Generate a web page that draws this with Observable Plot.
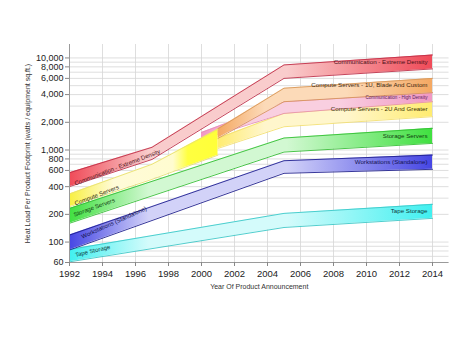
<!DOCTYPE html>
<html>
<head>
<meta charset="utf-8">
<script src="https://cdn.jsdelivr.net/npm/d3@7"></script>
<script src="https://cdn.jsdelivr.net/npm/@observablehq/plot@0.6"></script>
<style>
  body { margin: 0; background: #fff; }
  #chart svg { display: block; }
</style>
</head>
<body>
<div id="chart"></div>
<script>
// Axis ticks and labels
const yearTicks = [1992, 1994, 1996, 1998, 2000, 2002, 2004, 2006, 2008, 2010, 2012, 2014];
const valueTicks = [60, 100, 200, 400, 600, 800, 1000, 2000, 4000, 6000, 8000, 10000];
const gridValues = [60, 70, 80, 90, 100, 200, 300, 400, 500, 600, 700, 800, 900,
  1000, 2000, 3000, 4000, 5000, 6000, 7000, 8000, 9000, 10000];
const xTitle = "Year Of Product Announcement";
const yTitle = "Heat Load Per Product Footprint (watts / equipment sq.ft.)";

// Trend bands: year, lower and upper heat load (watts / sq.ft.)
const commExtremeName = "Communication - Extreme Density";
const commExtremeYears = [1992, 1997, 2005, 2014];
const commExtremeLow = [400, 790, 6000, 7600];
const commExtremeHigh = [566, 1070, 8400, 10770];

const computeName = "Compute Servers";
const computeYears = [1992, 1997, 2001];
const computeLow = [242, 480, 880];
const computeHigh = [333, 700, 1680];

const compute1uName = "Compute Servers - 1U, Blade And Custom";
const compute1uYears = [2001, 2005, 2014];
const compute1uLow = [1340, 3350, 4200];
const compute1uHigh = [1700, 4690, 6000];

const commHighName = "Communication - High Density";
const commHighYears = [2000, 2005, 2014];
const commHighLow = [1300, 2500, 3350];
const commHighHigh = [1550, 3350, 4200];

const compute2uName = "Compute Servers - 2U And Greater";
const compute2uYears = [2001, 2005, 2014];
const compute2uLow = [1040, 1790, 2300];
const compute2uHigh = [1340, 2500, 3350];

const storageName = "Storage Servers";
const storageYears = [1992, 2005, 2014];
const storageLow = [160, 950, 1180];
const storageHigh = [232, 1350, 1720];

const workstationName = "Workstations (Standalone)";
const workstationYears = [1992, 2005, 2014];
const workstationLow = [82, 558, 617];
const workstationHigh = [119, 765, 882];

const tapeName = "Tape Storage";
const tapeYears = [1992, 2005, 2014];
const tapeLow = [61, 144, 181];
const tapeHigh = [83, 205, 257];

// Fill gradients run left to right across each band
const fade = (sat, pale) => [[0, sat], [0.22, pale], [0.6, pale], [1, sat]];

// Drawing order: bottom band first, extreme density on top
const bands = [
  {id: "g-tape", name: tapeName, years: tapeYears, low: tapeLow, high: tapeHigh,
   edge: "#3cc8c8", ink: "#0e3c3c", stops: fade("#40f0f0", "#d4fbfb")},
  {id: "g-work", name: workstationName, years: workstationYears, low: workstationLow, high: workstationHigh,
   edge: "#202090", ink: "#141450", stops: fade("#4646e4", "#d2d2f8")},
  {id: "g-storage", name: storageName, years: storageYears, low: storageLow, high: storageHigh,
   edge: "#34c034", ink: "#103c10", stops: fade("#40e040", "#d2f8d2")},
  {id: "g-2u", name: compute2uName, years: compute2uYears, low: compute2uLow, high: compute2uHigh,
   edge: "#f4e070", ink: "#3a3000", stops: fade("#ffec70", "#fff6cc")},
  {id: "g-commhigh", name: commHighName, years: commHighYears, low: commHighLow, high: commHighHigh,
   edge: "#e890b8", ink: "#5a1c5a", stops: fade("#f098c4", "#f9cfe0")},
  {id: "g-1u", name: compute1uName, years: compute1uYears, low: compute1uLow, high: compute1uHigh,
   edge: "#d8985a", ink: "#3e2810", stops: fade("#f4a862", "#fcdab8")},
  {id: "g-compute", name: computeName, years: computeYears, low: computeLow, high: computeHigh,
   edge: "#e8e070", ink: "#2a2a10",
   stops: [[0, "#f8f040"], [0.3, "#fffbd8"], [0.7, "#fffcd0"], [0.8, "#ffff40"], [1, "#ffff38"]]},
  {id: "g-commext", name: commExtremeName, years: commExtremeYears, low: commExtremeLow, high: commExtremeHigh,
   edge: "#c03048", ink: "#4a1018", stops: fade("#f04a58", "#f9cccc")}
];

const rowsOf = (b) => b.years.map((year, i) => ({year, low: b.low[i], high: b.high[i]}));

// Gradient definitions placed inside the plot's SVG
const gradientDefs = () => {
  const defs = d3.create("svg:defs");
  for (const b of bands) {
    const g = defs.append("linearGradient").attr("id", b.id)
      .attr("x1", 0).attr("x2", 1).attr("y1", 0).attr("y2", 0);
    for (const [o, c] of b.stops) g.append("stop").attr("offset", o).attr("stop-color", c);
  }
  return defs.node();
};

const font = "'Liberation Sans', Arial, sans-serif";
const thousands = d3.format(",");

// Labels along each band near 1992 (rotated) and at the 2014 end
const leftLabels = [
  {band: "g-commext", year: 1994.9, value: 646, angle: -21},
  {band: "g-compute", year: 1993.65, value: 322, angle: -21},
  {band: "g-storage", year: 1993.5, value: 238, angle: -20},
  {band: "g-work", year: 1994.7, value: 163, angle: -24},
  {band: "g-tape", year: 1993.4, value: 80, angle: -13}
];
const byId = Object.fromEntries(bands.map((b) => [b.id, b]));
const rightEnd = bands.filter((b) => b.years[b.years.length - 1] === 2014);

const chart = Plot.plot({
  width: 474,
  height: 355,
  marginLeft: 69,
  marginRight: 25.5,
  marginTop: 44,
  marginBottom: 93,
  style: {fontFamily: font, background: "#fff", color: "#222"},
  x: {domain: [1992, 2015]},
  y: {type: "log", domain: [60, 14000]},
  marks: [
    gradientDefs,
    Plot.gridY(gridValues, {stroke: "#d6d6d6", strokeOpacity: 1, strokeWidth: 0.8}),
    Plot.gridX(yearTicks.slice(1), {stroke: "#d6d6d6", strokeOpacity: 1, strokeWidth: 0.8}),
    ...bands.flatMap((b) => {
      const rows = rowsOf(b);
      return [
        Plot.areaY(rows, {x: "year", y1: "low", y2: "high", fill: `url(#${b.id})`}),
        Plot.lineY(rows, {x: "year", y: "low", stroke: b.edge, strokeWidth: 0.9}),
        Plot.lineY(rows, {x: "year", y: "high", stroke: b.edge, strokeWidth: 0.9})
      ];
    }),
    Plot.ruleX([1992], {stroke: "#9a9a9a", strokeWidth: 1}),
    Plot.ruleY([60], {stroke: "#9a9a9a", strokeWidth: 1}),
    Plot.axisY({ticks: valueTicks, tickFormat: () => "", tickSize: 4, label: null, stroke: "#888"}),
    Plot.text(valueTicks, {y: (d) => d, text: (d) => thousands(d), frameAnchor: "left",
      textAnchor: "end", dx: -6, fontSize: 9, fill: "#222"}),
    Plot.axisX({ticks: yearTicks, tickFormat: (d) => String(d), tickSize: 4, tickPadding: 4,
      label: null, fontSize: 9.5, stroke: "#888", fill: "#222"}),
    Plot.text([yTitle], {text: (d) => d, frameAnchor: "left", textAnchor: "middle", dx: -42, rotate: -90,
      fontSize: 7, fill: "#333"}),
    Plot.text([xTitle], {text: (d) => d, frameAnchor: "bottom", textAnchor: "middle", dy: 26,
      fontSize: 7, fill: "#333"}),
    ...leftLabels.map((l) => Plot.text([l], {x: "year", y: "value", text: () => byId[l.band].name,
      rotate: l.angle, fontSize: 6, fill: byId[l.band].ink})),
    Plot.text(rightEnd, {
      x: (b) => b.years[b.years.length - 1],
      y: (b) => Math.sqrt(b.low[b.low.length - 1] * b.high[b.high.length - 1]),
      text: "name", textAnchor: "end", dx: -5,
      fontSize: (b) => (b.id === "g-commhigh" ? 4.6 : 6.2),
      fill: (b) => b.ink
    })
  ]
});

document.getElementById("chart").append(chart);
</script>
</body>
</html>
